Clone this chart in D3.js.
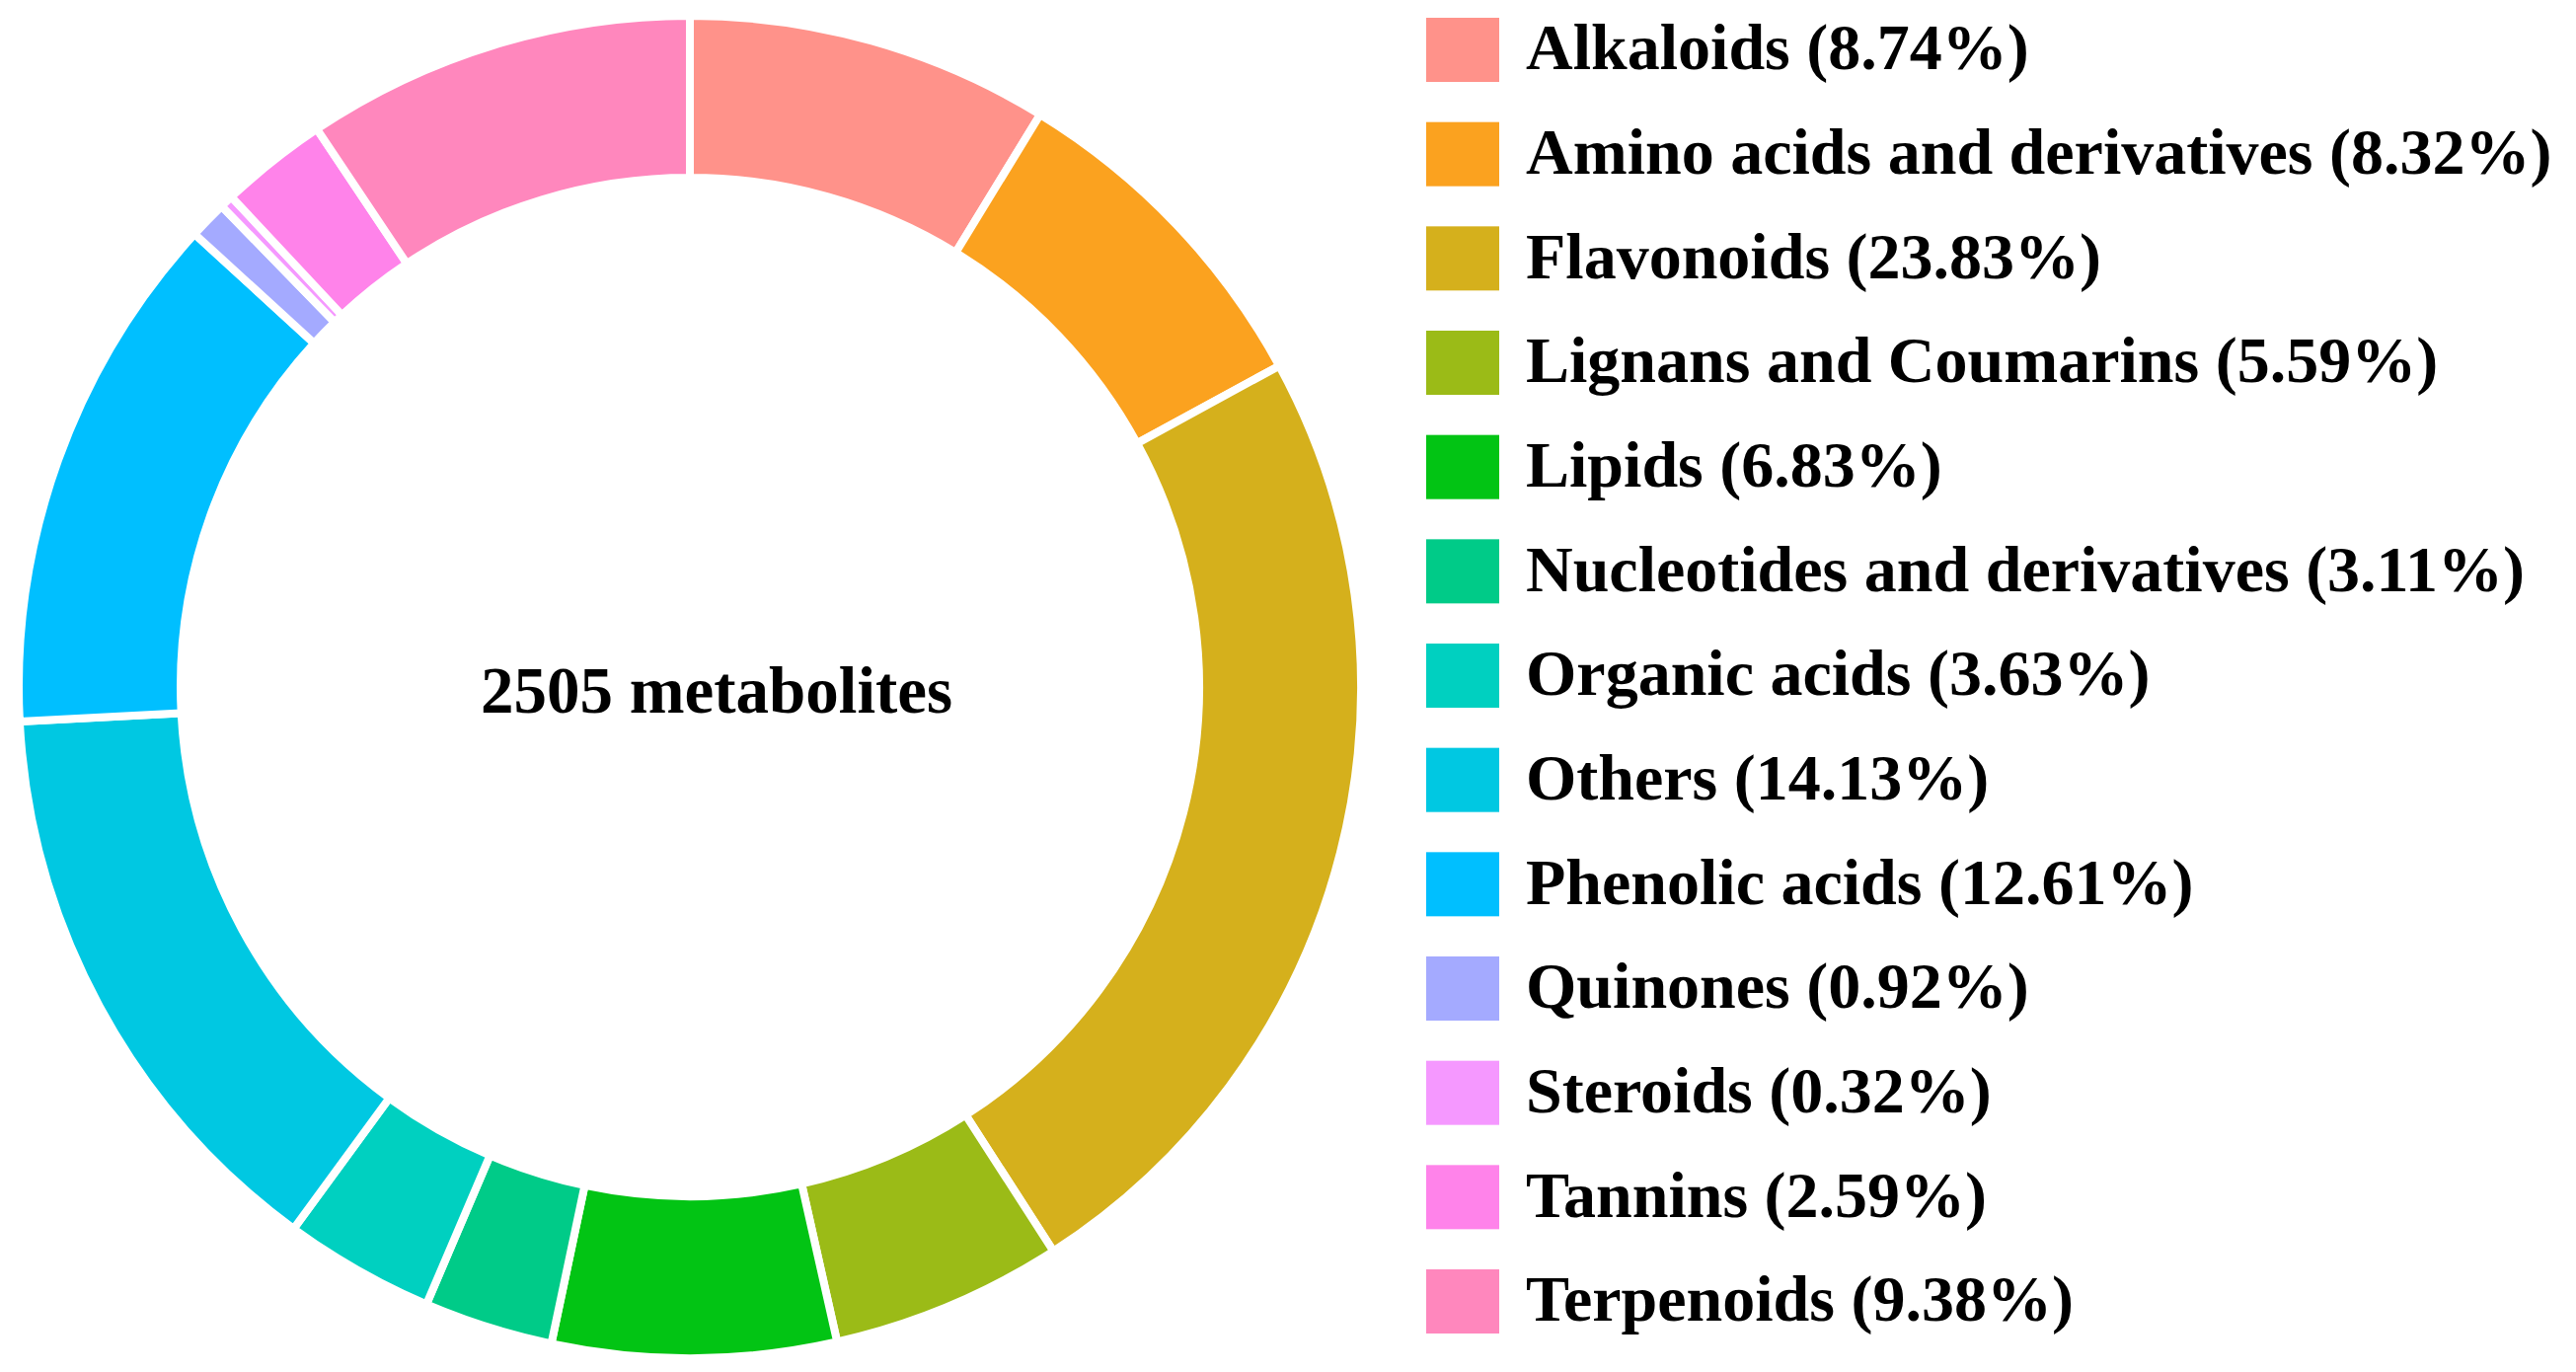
<!DOCTYPE html>
<html>
<head>
<meta charset="utf-8">
<script src="https://cdn.jsdelivr.net/npm/d3@7"></script>
<style>
  html, body { margin: 0; padding: 0; background: #fff; }
  svg text { font-family: "Palatino Linotype", "Book Antiqua", "Liberation Serif", serif; font-weight: bold; fill: #000; }
</style>
</head>
<body>
<div id="chart"></div>
<script>
// ── Data ─────────────────────────────────────────────────────
const categories = [
  "Alkaloids", "Amino acids and derivatives", "Flavonoids", "Lignans and Coumarins",
  "Lipids", "Nucleotides and derivatives", "Organic acids", "Others",
  "Phenolic acids", "Quinones", "Steroids", "Tannins", "Terpenoids"
];
const percents = [8.74, 8.32, 23.83, 5.59, 6.83, 3.11, 3.63, 14.13, 12.61, 0.92, 0.32, 2.59, 9.38];
const colors = [
  "#ff928a", "#fba21f", "#d5b01c", "#9bbb17", "#02c414", "#00cb88", "#00d0c0",
  "#00c8e2", "#00bfff", "#a4aaff", "#f598ff", "#ff83ea", "#ff87bd"
];
const centerLabel = "2505 metabolites";

// ── Layout ───────────────────────────────────────────────────
const W = 2610, H = 1390;
const cx = 699, cy = 696;
const outerR = 680, innerR = 516;
const legend = { x: 1445, top: 18, bottom: 1286, sw: 74, sh: 65, textGap: 27, fontSize: 66 };

const svg = d3.select("#chart").append("svg")
  .attr("width", W)
  .attr("height", H)
  .attr("viewBox", `0 0 ${W} ${H}`);

const color = d3.scaleOrdinal().domain(categories).range(colors);

const rows = categories.map((c, i) => ({ name: c, value: percents[i] }));

// ── Donut ────────────────────────────────────────────────────
const pie = d3.pie()
  .sort(null)
  .value(d => d.value)
  .startAngle(0)
  .endAngle(2 * Math.PI);

const arc = d3.arc()
  .innerRadius(innerR)
  .outerRadius(outerR);

const ring = svg.append("g")
  .attr("transform", `translate(${cx},${cy})`);

ring.selectAll("path")
  .data(pie(rows))
  .join("path")
    .attr("d", arc)
    .attr("fill", d => color(d.data.name))
    .attr("stroke", "#fff")
    .attr("stroke-width", 8)
    .attr("stroke-linejoin", "miter");

// centre label sits a little right of / below the ring centre, as in the source
ring.append("text")
  .attr("x", 27)
  .attr("y", 26)
  .attr("text-anchor", "middle")
  .attr("font-size", 67)
  .text(centerLabel);

// ── Legend ───────────────────────────────────────────────────
const yRow = d3.scalePoint()
  .domain(categories)
  .range([legend.top, legend.bottom]);

const item = svg.append("g")
  .selectAll("g")
  .data(rows)
  .join("g")
    .attr("transform", d => `translate(${legend.x},${yRow(d.name)})`);

item.append("rect")
  .attr("width", legend.sw)
  .attr("height", legend.sh)
  .attr("fill", d => color(d.name));

item.append("text")
  .attr("x", legend.sw + legend.textGap)
  .attr("y", legend.sh / 2)
  .attr("dy", "0.3em")
  .attr("font-size", legend.fontSize)
  .text(d => `${d.name} (${d.value.toFixed(2)}%)`);
</script>
</body>
</html>
